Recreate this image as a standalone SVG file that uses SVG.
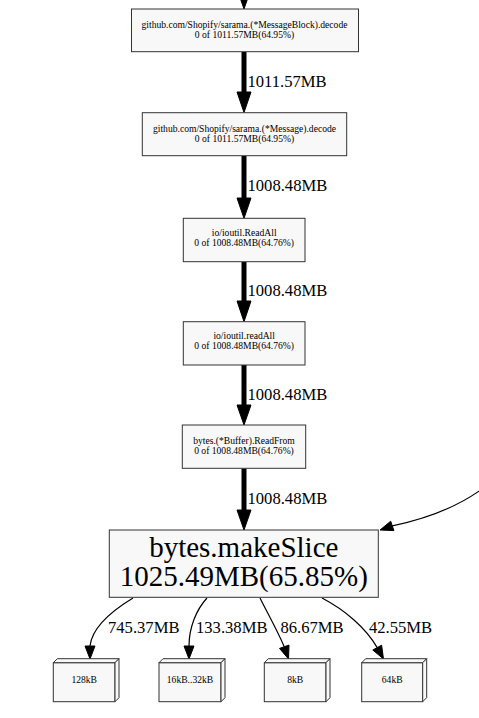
<svg xmlns="http://www.w3.org/2000/svg" width="479" height="718" viewBox="0 0 479 718">
<style>
text{font-family:"Liberation Serif","Times New Roman",Times,serif;fill:#000;text-anchor:middle}
.n{fill:#f8f8f8;stroke:#333;stroke-width:1}
.s{font-size:9.6px}
.big{font-size:29px}
.lbl{font-size:16.6px;text-anchor:start}
.thick{stroke:#000;stroke-width:5;fill:none}
.thin{stroke:#000;stroke-width:1.2;fill:none}
.ah{fill:#000;stroke:#000;stroke-width:1}
</style>
<rect width="479" height="718" fill="#fff"/>
<g id="connectors">
  <polygon class="ah" points="237,-11 251,-11 244,9"/>
  <path class="thick" d="M244,52 V93"/>
  <polygon class="ah" points="237,92 251,92 244,112.5"/>
  <text class="lbl" x="247.5" y="86.5">1011.57MB</text>
  <path class="thick" d="M244,156 V199"/>
  <polygon class="ah" points="237,198 251,198 244,218.3"/>
  <text class="lbl" x="247.5" y="190.5">1008.48MB</text>
  <path class="thick" d="M244,262 V302"/>
  <polygon class="ah" points="237,301 251,301 244,321.7"/>
  <text class="lbl" x="247.5" y="295.5">1008.48MB</text>
  <path class="thick" d="M244,365 V406"/>
  <polygon class="ah" points="237,405 251,405 244,425"/>
  <text class="lbl" x="247.5" y="399.5">1008.48MB</text>
  <path class="thick" d="M244,468.5 V511"/>
  <polygon class="ah" points="237,510 251,510 244,530"/>
  <text class="lbl" x="247.5" y="504">1008.48MB</text>
  <path class="thin" d="M482,489 C460,505 430,518 392.3,525.9"/>
  <polygon class="ah" points="380,530 393.9,530.6 390.7,521.2"/>
  <path class="thin" d="M133,598 C110,612 92,628 90,646"/>
  <polygon class="ah" points="85,646 95,646 90,659"/>
  <text class="lbl" x="108" y="633">745.37MB</text>
  <path class="thin" d="M207,598 C196,610 189,628 189,646"/>
  <polygon class="ah" points="184,646 194,646 189,659"/>
  <text class="lbl" x="196" y="633">133.38MB</text>
  <path class="thin" d="M260,598 C268,614 278,632 284.2,646.7"/>
  <polygon class="ah" points="279.5,648.4 289,645.1 288.5,659"/>
  <text class="lbl" x="280.5" y="633">86.67MB</text>
  <path class="thin" d="M322,598 C345,610 366,628 377.2,647.6"/>
  <polygon class="ah" points="372.8,650 381.6,645.2 383.5,659"/>
  <text class="lbl" x="369" y="633">42.55MB</text>
</g>
<g id="node1">
  <rect class="n" x="131.5" y="9" width="227" height="42.7"/>
  <text class="s" x="244.5" y="28">github.com/Shopify/sarama.(*MessageBlock).decode</text>
  <text class="s" x="244.5" y="38">0 of 1011.57MB(64.95%)</text>
</g>
<g id="node2">
  <rect class="n" x="142.3" y="112.7" width="204.4" height="43"/>
  <text class="s" x="244.5" y="132.4">github.com/Shopify/sarama.(*Message).decode</text>
  <text class="s" x="244.5" y="142.4">0 of 1011.57MB(64.95%)</text>
</g>
<g id="node3">
  <rect class="n" x="183.3" y="218.3" width="121.7" height="43.4"/>
  <text class="s" x="244.2" y="236">io/ioutil.ReadAll</text>
  <text class="s" x="244.2" y="246">0 of 1008.48MB(64.76%)</text>
</g>
<g id="node4">
  <rect class="n" x="183.3" y="321.7" width="121.7" height="43.3"/>
  <text class="s" x="244.2" y="339.4">io/ioutil.readAll</text>
  <text class="s" x="244.2" y="349.4">0 of 1008.48MB(64.76%)</text>
</g>
<g id="node5">
  <rect class="n" x="182.3" y="425" width="123.4" height="43.3"/>
  <text class="s" x="244" y="444.3">bytes.(*Buffer).ReadFrom</text>
  <text class="s" x="244" y="454.3">0 of 1008.48MB(64.76%)</text>
</g>
<g id="makeSlice">
  <rect class="n" x="109.3" y="530" width="269" height="67.3"/>
  <text class="big" x="243.8" y="556.5">bytes.makeSlice</text>
  <text class="big" x="243.8" y="585.5">1025.49MB(65.85%)</text>
</g>
<g id="b128kB">
  <rect class="n" x="53.3" y="662.7" width="61.7" height="39"/>
  <polygon class="n" points="53.3,662.7 57.3,658.7 119,658.7 115,662.7"/>
  <polygon class="n" points="115,662.7 119,658.7 119,697.7 115,701.7"/>
  <text class="s" x="84.2" y="683">128kB</text>
</g>
<g id="b16kB">
  <rect class="n" x="159" y="662.7" width="62" height="39"/>
  <polygon class="n" points="159,662.7 163,658.7 225,658.7 221,662.7"/>
  <polygon class="n" points="221,662.7 225,658.7 225,697.7 221,701.7"/>
  <text class="s" x="190" y="683">16kB..32kB</text>
</g>
<g id="b8kB">
  <rect class="n" x="264.3" y="662.7" width="61.7" height="39"/>
  <polygon class="n" points="264.3,662.7 268.3,658.7 330,658.7 326,662.7"/>
  <polygon class="n" points="326,662.7 330,658.7 330,697.7 326,701.7"/>
  <text class="s" x="295.2" y="683">8kB</text>
</g>
<g id="b64kB">
  <rect class="n" x="361.7" y="662.7" width="61" height="39"/>
  <polygon class="n" points="361.7,662.7 365.7,658.7 426.7,658.7 422.7,662.7"/>
  <polygon class="n" points="422.7,662.7 426.7,658.7 426.7,697.7 422.7,701.7"/>
  <text class="s" x="392.2" y="683">64kB</text>
</g>
</svg>
